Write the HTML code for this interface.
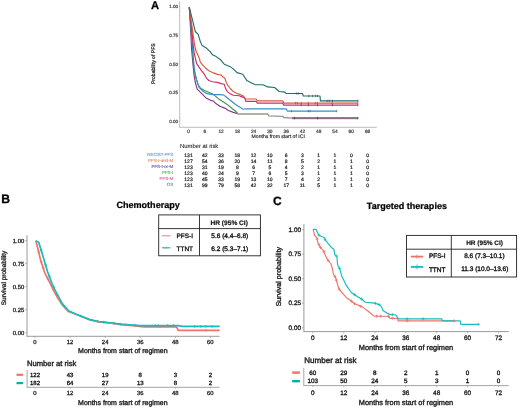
<!DOCTYPE html>
<html><head><meta charset="utf-8"><title>Figure</title>
<style>
html,body{margin:0;padding:0;background:#fff;width:520px;height:408px;overflow:hidden}
svg{display:block}
text{font-family:'Liberation Sans', Arial, sans-serif;text-rendering:geometricPrecision}
</style></head>
<body>
<svg width="520" height="408" viewBox="0 0 520 408">
<rect width="520" height="408" fill="#fff"/>
<text x="151.00" y="9.21" font-size="11.2" text-anchor="start" fill="#000" stroke="#000" stroke-width="0.28" font-weight="bold">A</text>
<line x1="179.70" y1="1.50" x2="179.70" y2="127.30" stroke="#b0b0b0" stroke-width="0.85"/>
<line x1="179.30" y1="127.30" x2="376.80" y2="127.30" stroke="#b0b0b0" stroke-width="0.85"/>
<line x1="178.60" y1="6.80" x2="179.70" y2="6.80" stroke="#b0b0b0" stroke-width="0.6"/>
<text x="178.20" y="8.45" font-size="4.6" text-anchor="end" fill="#333" stroke="#333" stroke-width="0.16">1.00</text>
<line x1="178.60" y1="35.42" x2="179.70" y2="35.42" stroke="#b0b0b0" stroke-width="0.6"/>
<text x="178.20" y="37.07" font-size="4.6" text-anchor="end" fill="#333" stroke="#333" stroke-width="0.16">0.75</text>
<line x1="178.60" y1="64.05" x2="179.70" y2="64.05" stroke="#b0b0b0" stroke-width="0.6"/>
<text x="178.20" y="65.70" font-size="4.6" text-anchor="end" fill="#333" stroke="#333" stroke-width="0.16">0.50</text>
<line x1="178.60" y1="92.67" x2="179.70" y2="92.67" stroke="#b0b0b0" stroke-width="0.6"/>
<text x="178.20" y="94.32" font-size="4.6" text-anchor="end" fill="#333" stroke="#333" stroke-width="0.16">0.25</text>
<line x1="178.60" y1="121.30" x2="179.70" y2="121.30" stroke="#b0b0b0" stroke-width="0.6"/>
<text x="178.20" y="122.95" font-size="4.6" text-anchor="end" fill="#333" stroke="#333" stroke-width="0.16">0.00</text>
<line x1="188.50" y1="127.30" x2="188.50" y2="128.40" stroke="#d0d0d0" stroke-width="0.5"/>
<text x="188.50" y="132.52" font-size="4.8" text-anchor="middle" fill="#333" stroke="#333" stroke-width="0.17">0</text>
<line x1="204.78" y1="127.30" x2="204.78" y2="128.40" stroke="#d0d0d0" stroke-width="0.5"/>
<text x="204.78" y="132.52" font-size="4.8" text-anchor="middle" fill="#333" stroke="#333" stroke-width="0.17">6</text>
<line x1="221.06" y1="127.30" x2="221.06" y2="128.40" stroke="#d0d0d0" stroke-width="0.5"/>
<text x="221.06" y="132.52" font-size="4.8" text-anchor="middle" fill="#333" stroke="#333" stroke-width="0.17">12</text>
<line x1="237.33" y1="127.30" x2="237.33" y2="128.40" stroke="#d0d0d0" stroke-width="0.5"/>
<text x="237.33" y="132.52" font-size="4.8" text-anchor="middle" fill="#333" stroke="#333" stroke-width="0.17">18</text>
<line x1="253.61" y1="127.30" x2="253.61" y2="128.40" stroke="#d0d0d0" stroke-width="0.5"/>
<text x="253.61" y="132.52" font-size="4.8" text-anchor="middle" fill="#333" stroke="#333" stroke-width="0.17">24</text>
<line x1="269.89" y1="127.30" x2="269.89" y2="128.40" stroke="#d0d0d0" stroke-width="0.5"/>
<text x="269.89" y="132.52" font-size="4.8" text-anchor="middle" fill="#333" stroke="#333" stroke-width="0.17">30</text>
<line x1="286.17" y1="127.30" x2="286.17" y2="128.40" stroke="#d0d0d0" stroke-width="0.5"/>
<text x="286.17" y="132.52" font-size="4.8" text-anchor="middle" fill="#333" stroke="#333" stroke-width="0.17">36</text>
<line x1="302.45" y1="127.30" x2="302.45" y2="128.40" stroke="#d0d0d0" stroke-width="0.5"/>
<text x="302.45" y="132.52" font-size="4.8" text-anchor="middle" fill="#333" stroke="#333" stroke-width="0.17">42</text>
<line x1="318.72" y1="127.30" x2="318.72" y2="128.40" stroke="#d0d0d0" stroke-width="0.5"/>
<text x="318.72" y="132.52" font-size="4.8" text-anchor="middle" fill="#333" stroke="#333" stroke-width="0.17">48</text>
<line x1="335.00" y1="127.30" x2="335.00" y2="128.40" stroke="#d0d0d0" stroke-width="0.5"/>
<text x="335.00" y="132.52" font-size="4.8" text-anchor="middle" fill="#333" stroke="#333" stroke-width="0.17">54</text>
<line x1="351.28" y1="127.30" x2="351.28" y2="128.40" stroke="#d0d0d0" stroke-width="0.5"/>
<text x="351.28" y="132.52" font-size="4.8" text-anchor="middle" fill="#333" stroke="#333" stroke-width="0.17">60</text>
<line x1="367.56" y1="127.30" x2="367.56" y2="128.40" stroke="#d0d0d0" stroke-width="0.5"/>
<text x="367.56" y="132.52" font-size="4.8" text-anchor="middle" fill="#333" stroke="#333" stroke-width="0.17">66</text>
<text x="278.20" y="138.23" font-size="5.1" text-anchor="middle" fill="#333" stroke="#333" stroke-width="0.18">Months from start of ICI</text>
<text x="0" y="0" font-size="5.1" text-anchor="middle" fill="#333" stroke="#333" stroke-width="0.3" transform="translate(155.33,63.7) rotate(-90)">Probability of PFS</text>
<polyline points="189.3,7.3 190.9,34.4 191.6,49.1 192.9,63.4 194.1,75.6 195.4,83.0 197.2,89.1 199.0,90.9 202.7,94.6 206.4,98.3 210.1,100.1 213.7,101.3 216.2,103.8 219.9,106.3 224.8,108.1 228.4,110.5 233.3,112.4 237.6,113.8" fill="none" stroke="#833887" stroke-width="1.15" stroke-linejoin="round"/>
<polyline points="189.3,7.3 191.5,34.4 192.6,49.1 193.5,65.8 194.7,73.2 196.0,78.1 197.8,84.2 200.3,87.9 203.9,90.3 208.8,92.2 213.7,94.6 218.6,98.9 223.5,102.0 227.2,104.4 230.9,107.5 234.6,110.5 237.6,113.0" fill="none" stroke="#43984f" stroke-width="1.15" stroke-linejoin="round"/>
<polyline points="237.6,114.0 267.7,114.0 268.8,115.8 282.7,116.3 283.8,117.5 291.9,118.1" fill="none" stroke="#9b958d" stroke-width="1.35" stroke-linejoin="round"/>
<polyline points="291.9,117.6 357.9,117.6" fill="none" stroke="#5f9a62" stroke-width="0.9" stroke-linejoin="round"/>
<polyline points="291.9,118.7 357.9,118.7" fill="none" stroke="#9a5a98" stroke-width="0.9" stroke-linejoin="round"/>
<polyline points="291.9,118.1 357.9,118.1" fill="none" stroke="#5a534d" stroke-width="0.7" stroke-linejoin="round"/>
<polyline points="189.3,7.3 191.8,34.4 193.0,55.0 194.5,70.0 196.6,79.9 199.0,87.3 202.7,90.9 206.4,93.4 212.5,94.6 218.6,94.6 223.5,94.9 227.2,97.7 230.9,100.7 234.6,103.8 238.2,106.3 240.0,107.1 242.9,109.2 245.8,108.8 286.1,108.8 287.3,111.1 336.7,111.1" fill="none" stroke="#3a8cc8" stroke-width="1.15" stroke-linejoin="round"/>
<polyline points="189.3,7.3 192.2,34.4 193.2,45.0 194.1,52.4 195.4,58.5 196.6,63.4 199.0,67.1 201.5,70.7 204.5,74.4 206.4,78.1 208.8,80.5 212.5,81.8 217.4,82.4 221.1,83.6 224.2,84.2 225.4,87.9 227.2,91.6 229.7,93.4 233.3,95.2 239.5,95.8 240.0,96.1 244.6,97.9 245.8,101.3 256.1,101.3 257.3,103.1 282.7,103.1 283.8,105.1 357.9,105.1" fill="none" stroke="#c82e6c" stroke-width="1.15" stroke-linejoin="round"/>
<polyline points="189.3,7.3 193.1,34.4 194.6,45.0 196.0,51.1 197.8,54.8 199.6,59.1 200.3,62.2 202.7,65.2 205.2,67.7 208.8,70.7 212.5,72.6 217.4,74.4 221.1,75.0 222.9,76.9 224.8,78.1 226.0,81.8 227.8,85.4 230.3,88.5 233.3,91.6 237.0,93.5 240.0,94.4 243.5,96.1 245.8,99.0 256.1,99.0 257.3,100.8 282.7,100.8 283.8,103.1 357.9,103.1" fill="none" stroke="#d65a38" stroke-width="1.15" stroke-linejoin="round"/>
<polyline points="189.3,7.3 192.4,19.7 195.3,31.5 198.2,34.4 200.4,41.8 202.1,45.6 206.4,48.1 210.1,51.7 212.5,54.8 216.2,56.6 220.5,59.7 223.5,63.4 224.8,64.6 229.7,66.4 233.3,68.9 237.0,72.6 242.7,74.2 246.9,80.6 251.5,82.9 255.0,84.6 263.1,84.8 267.7,86.9 274.6,87.5 279.2,91.5 285.0,92.1 286.1,93.5 302.5,93.5 303.3,96.0 320.0,96.0 320.4,100.9 357.9,100.9" fill="none" stroke="#1f6e68" stroke-width="1.1" stroke-linejoin="round"/>
<line x1="296.30" y1="92.30" x2="296.30" y2="94.70" stroke="#1d5f5a" stroke-width="0.7"/>
<line x1="298.30" y1="92.30" x2="298.30" y2="94.70" stroke="#1d5f5a" stroke-width="0.7"/>
<line x1="308.80" y1="94.80" x2="308.80" y2="97.20" stroke="#1d5f5a" stroke-width="0.7"/>
<line x1="312.70" y1="94.80" x2="312.70" y2="97.20" stroke="#1d5f5a" stroke-width="0.7"/>
<line x1="315.60" y1="94.80" x2="315.60" y2="97.20" stroke="#1d5f5a" stroke-width="0.7"/>
<line x1="317.50" y1="94.80" x2="317.50" y2="97.20" stroke="#1d5f5a" stroke-width="0.7"/>
<line x1="327.10" y1="99.70" x2="327.10" y2="102.10" stroke="#1d5f5a" stroke-width="0.7"/>
<line x1="329.20" y1="99.70" x2="329.20" y2="102.10" stroke="#1d5f5a" stroke-width="0.7"/>
<line x1="332.50" y1="99.70" x2="332.50" y2="102.10" stroke="#1d5f5a" stroke-width="0.7"/>
<line x1="357.90" y1="99.70" x2="357.90" y2="102.10" stroke="#1d5f5a" stroke-width="0.7"/>
<line x1="295.40" y1="101.90" x2="295.40" y2="104.30" stroke="#b0402a" stroke-width="0.7"/>
<line x1="297.30" y1="101.90" x2="297.30" y2="104.30" stroke="#b0402a" stroke-width="0.7"/>
<line x1="301.20" y1="101.90" x2="301.20" y2="104.30" stroke="#b0402a" stroke-width="0.7"/>
<line x1="308.30" y1="101.90" x2="308.30" y2="104.30" stroke="#b0402a" stroke-width="0.7"/>
<line x1="315.40" y1="101.90" x2="315.40" y2="104.30" stroke="#b0402a" stroke-width="0.7"/>
<line x1="317.50" y1="101.90" x2="317.50" y2="104.30" stroke="#b0402a" stroke-width="0.7"/>
<line x1="331.90" y1="101.90" x2="331.90" y2="104.30" stroke="#b0402a" stroke-width="0.7"/>
<line x1="357.90" y1="101.90" x2="357.90" y2="104.30" stroke="#b0402a" stroke-width="0.7"/>
<line x1="301.20" y1="103.90" x2="301.20" y2="106.30" stroke="#a02050" stroke-width="0.7"/>
<line x1="308.30" y1="103.90" x2="308.30" y2="106.30" stroke="#a02050" stroke-width="0.7"/>
<line x1="317.50" y1="103.90" x2="317.50" y2="106.30" stroke="#a02050" stroke-width="0.7"/>
<line x1="332.50" y1="103.90" x2="332.50" y2="106.30" stroke="#a02050" stroke-width="0.7"/>
<line x1="357.90" y1="103.90" x2="357.90" y2="106.30" stroke="#a02050" stroke-width="0.7"/>
<line x1="291.50" y1="109.90" x2="291.50" y2="112.30" stroke="#2a6a98" stroke-width="0.7"/>
<line x1="308.30" y1="109.90" x2="308.30" y2="112.30" stroke="#2a6a98" stroke-width="0.7"/>
<line x1="310.00" y1="109.90" x2="310.00" y2="112.30" stroke="#2a6a98" stroke-width="0.7"/>
<line x1="336.70" y1="109.90" x2="336.70" y2="112.30" stroke="#2a6a98" stroke-width="0.7"/>
<line x1="294.40" y1="116.80" x2="294.40" y2="119.40" stroke="#3a3530" stroke-width="0.7"/>
<line x1="317.50" y1="116.80" x2="317.50" y2="119.40" stroke="#3a3530" stroke-width="0.7"/>
<line x1="357.90" y1="116.80" x2="357.90" y2="119.40" stroke="#3a3530" stroke-width="0.7"/>
<text x="180.00" y="147.71" font-size="5.9" text-anchor="start" fill="#222" stroke="#222" stroke-width="0.09">Number at risk</text>
<text x="173.20" y="156.38" font-size="4.4" text-anchor="end" fill="#6aa8d4" stroke="#6aa8d4" stroke-width="0.15">RECIST-PFS</text>
<text x="188.50" y="157.09" font-size="5.0" text-anchor="middle" fill="#222" stroke="#222" stroke-width="0.22">131</text>
<text x="204.78" y="157.09" font-size="5.0" text-anchor="middle" fill="#222" stroke="#222" stroke-width="0.22">42</text>
<text x="221.06" y="157.09" font-size="5.0" text-anchor="middle" fill="#222" stroke="#222" stroke-width="0.22">33</text>
<text x="237.33" y="157.09" font-size="5.0" text-anchor="middle" fill="#222" stroke="#222" stroke-width="0.22">18</text>
<text x="253.61" y="157.09" font-size="5.0" text-anchor="middle" fill="#222" stroke="#222" stroke-width="0.22">12</text>
<text x="269.89" y="157.09" font-size="5.0" text-anchor="middle" fill="#222" stroke="#222" stroke-width="0.22">10</text>
<text x="286.17" y="157.09" font-size="5.0" text-anchor="middle" fill="#222" stroke="#222" stroke-width="0.22">6</text>
<text x="302.45" y="157.09" font-size="5.0" text-anchor="middle" fill="#222" stroke="#222" stroke-width="0.22">3</text>
<text x="318.72" y="157.09" font-size="5.0" text-anchor="middle" fill="#222" stroke="#222" stroke-width="0.22">1</text>
<text x="335.00" y="157.09" font-size="5.0" text-anchor="middle" fill="#222" stroke="#222" stroke-width="0.22">1</text>
<text x="351.28" y="157.09" font-size="5.0" text-anchor="middle" fill="#222" stroke="#222" stroke-width="0.22">0</text>
<text x="367.56" y="157.09" font-size="5.0" text-anchor="middle" fill="#222" stroke="#222" stroke-width="0.22">0</text>
<text x="173.20" y="162.38" font-size="4.4" text-anchor="end" fill="#ec9068" stroke="#ec9068" stroke-width="0.15">PFS-I-and-M</text>
<text x="188.50" y="163.09" font-size="5.0" text-anchor="middle" fill="#222" stroke="#222" stroke-width="0.22">127</text>
<text x="204.78" y="163.09" font-size="5.0" text-anchor="middle" fill="#222" stroke="#222" stroke-width="0.22">54</text>
<text x="221.06" y="163.09" font-size="5.0" text-anchor="middle" fill="#222" stroke="#222" stroke-width="0.22">36</text>
<text x="237.33" y="163.09" font-size="5.0" text-anchor="middle" fill="#222" stroke="#222" stroke-width="0.22">20</text>
<text x="253.61" y="163.09" font-size="5.0" text-anchor="middle" fill="#222" stroke="#222" stroke-width="0.22">14</text>
<text x="269.89" y="163.09" font-size="5.0" text-anchor="middle" fill="#222" stroke="#222" stroke-width="0.22">11</text>
<text x="286.17" y="163.09" font-size="5.0" text-anchor="middle" fill="#222" stroke="#222" stroke-width="0.22">8</text>
<text x="302.45" y="163.09" font-size="5.0" text-anchor="middle" fill="#222" stroke="#222" stroke-width="0.22">5</text>
<text x="318.72" y="163.09" font-size="5.0" text-anchor="middle" fill="#222" stroke="#222" stroke-width="0.22">2</text>
<text x="335.00" y="163.09" font-size="5.0" text-anchor="middle" fill="#222" stroke="#222" stroke-width="0.22">1</text>
<text x="351.28" y="163.09" font-size="5.0" text-anchor="middle" fill="#222" stroke="#222" stroke-width="0.22">1</text>
<text x="367.56" y="163.09" font-size="5.0" text-anchor="middle" fill="#222" stroke="#222" stroke-width="0.22">0</text>
<text x="173.20" y="168.38" font-size="4.4" text-anchor="end" fill="#7058a6" stroke="#7058a6" stroke-width="0.15">PFS-I-or-M</text>
<text x="188.50" y="169.09" font-size="5.0" text-anchor="middle" fill="#222" stroke="#222" stroke-width="0.22">123</text>
<text x="204.78" y="169.09" font-size="5.0" text-anchor="middle" fill="#222" stroke="#222" stroke-width="0.22">31</text>
<text x="221.06" y="169.09" font-size="5.0" text-anchor="middle" fill="#222" stroke="#222" stroke-width="0.22">19</text>
<text x="237.33" y="169.09" font-size="5.0" text-anchor="middle" fill="#222" stroke="#222" stroke-width="0.22">8</text>
<text x="253.61" y="169.09" font-size="5.0" text-anchor="middle" fill="#222" stroke="#222" stroke-width="0.22">6</text>
<text x="269.89" y="169.09" font-size="5.0" text-anchor="middle" fill="#222" stroke="#222" stroke-width="0.22">5</text>
<text x="286.17" y="169.09" font-size="5.0" text-anchor="middle" fill="#222" stroke="#222" stroke-width="0.22">4</text>
<text x="302.45" y="169.09" font-size="5.0" text-anchor="middle" fill="#222" stroke="#222" stroke-width="0.22">2</text>
<text x="318.72" y="169.09" font-size="5.0" text-anchor="middle" fill="#222" stroke="#222" stroke-width="0.22">1</text>
<text x="335.00" y="169.09" font-size="5.0" text-anchor="middle" fill="#222" stroke="#222" stroke-width="0.22">1</text>
<text x="351.28" y="169.09" font-size="5.0" text-anchor="middle" fill="#222" stroke="#222" stroke-width="0.22">1</text>
<text x="367.56" y="169.09" font-size="5.0" text-anchor="middle" fill="#222" stroke="#222" stroke-width="0.22">0</text>
<text x="173.20" y="174.38" font-size="4.4" text-anchor="end" fill="#66b866" stroke="#66b866" stroke-width="0.15">PFS-I</text>
<text x="188.50" y="175.09" font-size="5.0" text-anchor="middle" fill="#222" stroke="#222" stroke-width="0.22">123</text>
<text x="204.78" y="175.09" font-size="5.0" text-anchor="middle" fill="#222" stroke="#222" stroke-width="0.22">40</text>
<text x="221.06" y="175.09" font-size="5.0" text-anchor="middle" fill="#222" stroke="#222" stroke-width="0.22">24</text>
<text x="237.33" y="175.09" font-size="5.0" text-anchor="middle" fill="#222" stroke="#222" stroke-width="0.22">9</text>
<text x="253.61" y="175.09" font-size="5.0" text-anchor="middle" fill="#222" stroke="#222" stroke-width="0.22">7</text>
<text x="269.89" y="175.09" font-size="5.0" text-anchor="middle" fill="#222" stroke="#222" stroke-width="0.22">6</text>
<text x="286.17" y="175.09" font-size="5.0" text-anchor="middle" fill="#222" stroke="#222" stroke-width="0.22">5</text>
<text x="302.45" y="175.09" font-size="5.0" text-anchor="middle" fill="#222" stroke="#222" stroke-width="0.22">3</text>
<text x="318.72" y="175.09" font-size="5.0" text-anchor="middle" fill="#222" stroke="#222" stroke-width="0.22">1</text>
<text x="335.00" y="175.09" font-size="5.0" text-anchor="middle" fill="#222" stroke="#222" stroke-width="0.22">1</text>
<text x="351.28" y="175.09" font-size="5.0" text-anchor="middle" fill="#222" stroke="#222" stroke-width="0.22">1</text>
<text x="367.56" y="175.09" font-size="5.0" text-anchor="middle" fill="#222" stroke="#222" stroke-width="0.22">0</text>
<text x="173.20" y="180.38" font-size="4.4" text-anchor="end" fill="#e46a98" stroke="#e46a98" stroke-width="0.15">PFS-M</text>
<text x="188.50" y="181.09" font-size="5.0" text-anchor="middle" fill="#222" stroke="#222" stroke-width="0.22">123</text>
<text x="204.78" y="181.09" font-size="5.0" text-anchor="middle" fill="#222" stroke="#222" stroke-width="0.22">45</text>
<text x="221.06" y="181.09" font-size="5.0" text-anchor="middle" fill="#222" stroke="#222" stroke-width="0.22">33</text>
<text x="237.33" y="181.09" font-size="5.0" text-anchor="middle" fill="#222" stroke="#222" stroke-width="0.22">19</text>
<text x="253.61" y="181.09" font-size="5.0" text-anchor="middle" fill="#222" stroke="#222" stroke-width="0.22">13</text>
<text x="269.89" y="181.09" font-size="5.0" text-anchor="middle" fill="#222" stroke="#222" stroke-width="0.22">10</text>
<text x="286.17" y="181.09" font-size="5.0" text-anchor="middle" fill="#222" stroke="#222" stroke-width="0.22">7</text>
<text x="302.45" y="181.09" font-size="5.0" text-anchor="middle" fill="#222" stroke="#222" stroke-width="0.22">4</text>
<text x="318.72" y="181.09" font-size="5.0" text-anchor="middle" fill="#222" stroke="#222" stroke-width="0.22">2</text>
<text x="335.00" y="181.09" font-size="5.0" text-anchor="middle" fill="#222" stroke="#222" stroke-width="0.22">1</text>
<text x="351.28" y="181.09" font-size="5.0" text-anchor="middle" fill="#222" stroke="#222" stroke-width="0.22">1</text>
<text x="367.56" y="181.09" font-size="5.0" text-anchor="middle" fill="#222" stroke="#222" stroke-width="0.22">0</text>
<text x="173.20" y="186.38" font-size="4.4" text-anchor="end" fill="#5a9e9a" stroke="#5a9e9a" stroke-width="0.15">OS</text>
<text x="188.50" y="187.09" font-size="5.0" text-anchor="middle" fill="#222" stroke="#222" stroke-width="0.22">131</text>
<text x="204.78" y="187.09" font-size="5.0" text-anchor="middle" fill="#222" stroke="#222" stroke-width="0.22">99</text>
<text x="221.06" y="187.09" font-size="5.0" text-anchor="middle" fill="#222" stroke="#222" stroke-width="0.22">79</text>
<text x="237.33" y="187.09" font-size="5.0" text-anchor="middle" fill="#222" stroke="#222" stroke-width="0.22">58</text>
<text x="253.61" y="187.09" font-size="5.0" text-anchor="middle" fill="#222" stroke="#222" stroke-width="0.22">42</text>
<text x="269.89" y="187.09" font-size="5.0" text-anchor="middle" fill="#222" stroke="#222" stroke-width="0.22">32</text>
<text x="286.17" y="187.09" font-size="5.0" text-anchor="middle" fill="#222" stroke="#222" stroke-width="0.22">17</text>
<text x="302.45" y="187.09" font-size="5.0" text-anchor="middle" fill="#222" stroke="#222" stroke-width="0.22">11</text>
<text x="318.72" y="187.09" font-size="5.0" text-anchor="middle" fill="#222" stroke="#222" stroke-width="0.22">5</text>
<text x="335.00" y="187.09" font-size="5.0" text-anchor="middle" fill="#222" stroke="#222" stroke-width="0.22">1</text>
<text x="351.28" y="187.09" font-size="5.0" text-anchor="middle" fill="#222" stroke="#222" stroke-width="0.22">1</text>
<text x="367.56" y="187.09" font-size="5.0" text-anchor="middle" fill="#222" stroke="#222" stroke-width="0.22">0</text>
<text x="1.20" y="203.37" font-size="12.2" text-anchor="start" fill="#000" stroke="#000" stroke-width="0.30" font-weight="bold">B</text>
<text x="116.40" y="208.15" font-size="9.07" text-anchor="start" fill="#000" stroke="#000" stroke-width="0.23" font-weight="bold">Chemotherapy</text>
<line x1="27.00" y1="235.30" x2="27.00" y2="336.30" stroke="#9a9a9a" stroke-width="1.0"/>
<line x1="26.50" y1="336.30" x2="219.60" y2="336.30" stroke="#9a9a9a" stroke-width="1.0"/>
<line x1="25.20" y1="240.60" x2="27.00" y2="240.60" stroke="#9a9a9a" stroke-width="0.7"/>
<text x="24.30" y="242.71" font-size="5.9" text-anchor="end" fill="#222" stroke="#222" stroke-width="0.30">1.00</text>
<line x1="25.20" y1="263.60" x2="27.00" y2="263.60" stroke="#9a9a9a" stroke-width="0.7"/>
<text x="24.30" y="265.71" font-size="5.9" text-anchor="end" fill="#222" stroke="#222" stroke-width="0.30">0.75</text>
<line x1="25.20" y1="286.60" x2="27.00" y2="286.60" stroke="#9a9a9a" stroke-width="0.7"/>
<text x="24.30" y="288.71" font-size="5.9" text-anchor="end" fill="#222" stroke="#222" stroke-width="0.30">0.50</text>
<line x1="25.20" y1="309.60" x2="27.00" y2="309.60" stroke="#9a9a9a" stroke-width="0.7"/>
<text x="24.30" y="311.71" font-size="5.9" text-anchor="end" fill="#222" stroke="#222" stroke-width="0.30">0.25</text>
<line x1="25.20" y1="332.60" x2="27.00" y2="332.60" stroke="#9a9a9a" stroke-width="0.7"/>
<text x="24.30" y="334.71" font-size="5.9" text-anchor="end" fill="#222" stroke="#222" stroke-width="0.30">0.00</text>
<line x1="35.00" y1="336.30" x2="35.00" y2="338.00" stroke="#9a9a9a" stroke-width="0.7"/>
<text x="35.00" y="343.71" font-size="5.9" text-anchor="middle" fill="#222" stroke="#222" stroke-width="0.30">0</text>
<line x1="70.08" y1="336.30" x2="70.08" y2="338.00" stroke="#9a9a9a" stroke-width="0.7"/>
<text x="70.08" y="343.71" font-size="5.9" text-anchor="middle" fill="#222" stroke="#222" stroke-width="0.30">12</text>
<line x1="105.15" y1="336.30" x2="105.15" y2="338.00" stroke="#9a9a9a" stroke-width="0.7"/>
<text x="105.15" y="343.71" font-size="5.9" text-anchor="middle" fill="#222" stroke="#222" stroke-width="0.30">24</text>
<line x1="140.23" y1="336.30" x2="140.23" y2="338.00" stroke="#9a9a9a" stroke-width="0.7"/>
<text x="140.23" y="343.71" font-size="5.9" text-anchor="middle" fill="#222" stroke="#222" stroke-width="0.30">36</text>
<line x1="175.30" y1="336.30" x2="175.30" y2="338.00" stroke="#9a9a9a" stroke-width="0.7"/>
<text x="175.30" y="343.71" font-size="5.9" text-anchor="middle" fill="#222" stroke="#222" stroke-width="0.30">48</text>
<line x1="210.38" y1="336.30" x2="210.38" y2="338.00" stroke="#9a9a9a" stroke-width="0.7"/>
<text x="210.38" y="343.71" font-size="5.9" text-anchor="middle" fill="#222" stroke="#222" stroke-width="0.30">60</text>
<text x="122.80" y="353.41" font-size="7.0" text-anchor="middle" fill="#222" stroke="#222" stroke-width="0.35">Months from start of regimen</text>
<text x="0" y="0" font-size="6.5" text-anchor="middle" fill="#222" stroke="#222" stroke-width="0.32" transform="translate(6.30,278) rotate(-90)">Survival probability</text>
<polyline points="35.9,240.6 37.4,246.8 40.6,260.0 44.9,273.2 50.3,283.5 55.4,293.8 62.0,304.6 68.3,311.5 74.6,313.8 80.8,316.2 90.0,320.0 99.2,321.8 111.5,323.1 120.8,324.6 130.0,325.4 144.2,326.8 176.6,326.8 178.2,330.3 219.7,330.3" fill="none" stroke="#f0736a" stroke-width="1.7" stroke-linejoin="round"/>
<polyline points="35.9,240.6 38.8,242.4 43.2,257.0 47.6,271.8 52.0,283.5 56.5,293.0 62.3,303.6 68.5,310.8 74.6,313.5 80.8,316.0 90.0,319.6 99.2,321.6 111.5,323.0 120.8,324.2 130.1,324.8 140.2,325.6 178.6,325.6 182.6,326.4 219.7,326.4" fill="none" stroke="#14bcc0" stroke-width="1.7" stroke-linejoin="round"/>
<line x1="38.66" y1="250.60" x2="38.66" y2="253.40" stroke="#f0736a" stroke-width="0.8"/>
<line x1="37.26" y1="252.00" x2="40.06" y2="252.00" stroke="#f0736a" stroke-width="0.8"/>
<line x1="41.25" y1="260.60" x2="41.25" y2="263.40" stroke="#f0736a" stroke-width="0.8"/>
<line x1="39.85" y1="262.00" x2="42.65" y2="262.00" stroke="#f0736a" stroke-width="0.8"/>
<line x1="43.21" y1="266.60" x2="43.21" y2="269.40" stroke="#f0736a" stroke-width="0.8"/>
<line x1="41.81" y1="268.00" x2="44.61" y2="268.00" stroke="#f0736a" stroke-width="0.8"/>
<line x1="47.94" y1="277.60" x2="47.94" y2="280.40" stroke="#f0736a" stroke-width="0.8"/>
<line x1="46.54" y1="279.00" x2="49.34" y2="279.00" stroke="#f0736a" stroke-width="0.8"/>
<line x1="53.02" y1="287.60" x2="53.02" y2="290.40" stroke="#f0736a" stroke-width="0.8"/>
<line x1="51.62" y1="289.00" x2="54.42" y2="289.00" stroke="#f0736a" stroke-width="0.8"/>
<line x1="57.97" y1="296.60" x2="57.97" y2="299.40" stroke="#f0736a" stroke-width="0.8"/>
<line x1="56.57" y1="298.00" x2="59.37" y2="298.00" stroke="#f0736a" stroke-width="0.8"/>
<line x1="41.09" y1="248.60" x2="41.09" y2="251.40" stroke="#14bcc0" stroke-width="0.8"/>
<line x1="39.69" y1="250.00" x2="42.49" y2="250.00" stroke="#14bcc0" stroke-width="0.8"/>
<line x1="45.58" y1="263.60" x2="45.58" y2="266.40" stroke="#14bcc0" stroke-width="0.8"/>
<line x1="44.18" y1="265.00" x2="46.98" y2="265.00" stroke="#14bcc0" stroke-width="0.8"/>
<line x1="49.18" y1="274.60" x2="49.18" y2="277.40" stroke="#14bcc0" stroke-width="0.8"/>
<line x1="47.78" y1="276.00" x2="50.58" y2="276.00" stroke="#14bcc0" stroke-width="0.8"/>
<line x1="53.66" y1="285.60" x2="53.66" y2="288.40" stroke="#14bcc0" stroke-width="0.8"/>
<line x1="52.26" y1="287.00" x2="55.06" y2="287.00" stroke="#14bcc0" stroke-width="0.8"/>
<line x1="80.80" y1="314.60" x2="80.80" y2="317.40" stroke="#14bcc0" stroke-width="0.8"/>
<line x1="79.40" y1="316.00" x2="82.20" y2="316.00" stroke="#14bcc0" stroke-width="0.8"/>
<line x1="103.80" y1="320.72" x2="103.80" y2="323.52" stroke="#14bcc0" stroke-width="0.8"/>
<line x1="102.40" y1="322.12" x2="105.20" y2="322.12" stroke="#14bcc0" stroke-width="0.8"/>
<line x1="113.80" y1="321.90" x2="113.80" y2="324.70" stroke="#14bcc0" stroke-width="0.8"/>
<line x1="112.40" y1="323.30" x2="115.20" y2="323.30" stroke="#14bcc0" stroke-width="0.8"/>
<line x1="120.80" y1="322.80" x2="120.80" y2="325.60" stroke="#14bcc0" stroke-width="0.8"/>
<line x1="119.40" y1="324.20" x2="122.20" y2="324.20" stroke="#14bcc0" stroke-width="0.8"/>
<line x1="135.20" y1="323.80" x2="135.20" y2="326.60" stroke="#14bcc0" stroke-width="0.8"/>
<line x1="133.80" y1="325.20" x2="136.60" y2="325.20" stroke="#14bcc0" stroke-width="0.8"/>
<line x1="155.40" y1="324.20" x2="155.40" y2="327.00" stroke="#14bcc0" stroke-width="0.8"/>
<line x1="154.00" y1="325.60" x2="156.80" y2="325.60" stroke="#14bcc0" stroke-width="0.8"/>
<line x1="158.40" y1="324.20" x2="158.40" y2="327.00" stroke="#14bcc0" stroke-width="0.8"/>
<line x1="157.00" y1="325.60" x2="159.80" y2="325.60" stroke="#14bcc0" stroke-width="0.8"/>
<line x1="167.50" y1="324.20" x2="167.50" y2="327.00" stroke="#14bcc0" stroke-width="0.8"/>
<line x1="166.10" y1="325.60" x2="168.90" y2="325.60" stroke="#14bcc0" stroke-width="0.8"/>
<line x1="173.50" y1="324.20" x2="173.50" y2="327.00" stroke="#14bcc0" stroke-width="0.8"/>
<line x1="172.10" y1="325.60" x2="174.90" y2="325.60" stroke="#14bcc0" stroke-width="0.8"/>
<line x1="194.70" y1="325.00" x2="194.70" y2="327.80" stroke="#14bcc0" stroke-width="0.8"/>
<line x1="193.30" y1="326.40" x2="196.10" y2="326.40" stroke="#14bcc0" stroke-width="0.8"/>
<line x1="200.80" y1="325.00" x2="200.80" y2="327.80" stroke="#14bcc0" stroke-width="0.8"/>
<line x1="199.40" y1="326.40" x2="202.20" y2="326.40" stroke="#14bcc0" stroke-width="0.8"/>
<line x1="205.90" y1="325.00" x2="205.90" y2="327.80" stroke="#14bcc0" stroke-width="0.8"/>
<line x1="204.50" y1="326.40" x2="207.30" y2="326.40" stroke="#14bcc0" stroke-width="0.8"/>
<line x1="211.90" y1="325.00" x2="211.90" y2="327.80" stroke="#14bcc0" stroke-width="0.8"/>
<line x1="210.50" y1="326.40" x2="213.30" y2="326.40" stroke="#14bcc0" stroke-width="0.8"/>
<line x1="98.00" y1="320.17" x2="98.00" y2="322.97" stroke="#f0736a" stroke-width="0.8"/>
<line x1="96.60" y1="321.57" x2="99.40" y2="321.57" stroke="#f0736a" stroke-width="0.8"/>
<line x1="125.00" y1="323.57" x2="125.00" y2="326.37" stroke="#f0736a" stroke-width="0.8"/>
<line x1="123.60" y1="324.97" x2="126.40" y2="324.97" stroke="#f0736a" stroke-width="0.8"/>
<line x1="160.00" y1="325.40" x2="160.00" y2="328.20" stroke="#f0736a" stroke-width="0.8"/>
<line x1="158.60" y1="326.80" x2="161.40" y2="326.80" stroke="#f0736a" stroke-width="0.8"/>
<line x1="205.90" y1="328.90" x2="205.90" y2="331.70" stroke="#f0736a" stroke-width="0.8"/>
<line x1="204.50" y1="330.30" x2="207.30" y2="330.30" stroke="#f0736a" stroke-width="0.8"/>
<rect x="158.7" y="214.9" width="101.7" height="40.9" fill="none" stroke="#222" stroke-width="0.9"/>
<line x1="199.50" y1="214.90" x2="199.50" y2="255.80" stroke="#222" stroke-width="0.9"/>
<line x1="158.70" y1="228.60" x2="260.40" y2="228.60" stroke="#222" stroke-width="0.9"/>
<text x="229.20" y="224.56" font-size="6.6" text-anchor="middle" fill="#111" stroke="#111" stroke-width="0.17" font-weight="bold">HR (95% CI)</text>
<line x1="161.90" y1="235.80" x2="170.40" y2="235.80" stroke="#d99a98" stroke-width="1.2"/>
<line x1="161.90" y1="247.80" x2="170.40" y2="247.80" stroke="#2cb7ae" stroke-width="1.2"/>
<line x1="166.10" y1="246.60" x2="166.10" y2="249.00" stroke="#2cb7ae" stroke-width="0.6"/>
<text x="176.60" y="237.99" font-size="6.4" text-anchor="start" fill="#111" stroke="#111" stroke-width="0.32">PFS-I</text>
<text x="176.60" y="250.89" font-size="6.4" text-anchor="start" fill="#111" stroke="#111" stroke-width="0.32">TTNT</text>
<text x="229.80" y="238.03" font-size="6.5" text-anchor="middle" fill="#111" stroke="#111" stroke-width="0.33">5.6 (4.4–6.8)</text>
<text x="229.80" y="250.93" font-size="6.5" text-anchor="middle" fill="#111" stroke="#111" stroke-width="0.33">6.2 (5.3–7.1)</text>
<text x="27.00" y="365.71" font-size="7.58" text-anchor="start" fill="#222" stroke="#222" stroke-width="0.38">Number at risk</text>
<line x1="16.50" y1="374.80" x2="23.10" y2="374.80" stroke="#f0736a" stroke-width="2.2"/>
<line x1="16.50" y1="383.10" x2="23.10" y2="383.10" stroke="#11a9a9" stroke-width="2.2"/>
<line x1="27.10" y1="370.00" x2="27.10" y2="387.30" stroke="#9a9a9a" stroke-width="0.9"/>
<line x1="26.70" y1="387.30" x2="219.60" y2="387.30" stroke="#9a9a9a" stroke-width="0.9"/>
<text x="35.00" y="377.15" font-size="6.0" text-anchor="middle" fill="#111" stroke="#111" stroke-width="0.30">122</text>
<text x="35.00" y="385.35" font-size="6.0" text-anchor="middle" fill="#111" stroke="#111" stroke-width="0.30">182</text>
<line x1="35.00" y1="387.30" x2="35.00" y2="388.80" stroke="#9a9a9a" stroke-width="0.7"/>
<text x="35.00" y="394.81" font-size="5.9" text-anchor="middle" fill="#222" stroke="#222" stroke-width="0.30">0</text>
<text x="70.08" y="377.15" font-size="6.0" text-anchor="middle" fill="#111" stroke="#111" stroke-width="0.30">43</text>
<text x="70.08" y="385.35" font-size="6.0" text-anchor="middle" fill="#111" stroke="#111" stroke-width="0.30">64</text>
<line x1="70.08" y1="387.30" x2="70.08" y2="388.80" stroke="#9a9a9a" stroke-width="0.7"/>
<text x="70.08" y="394.81" font-size="5.9" text-anchor="middle" fill="#222" stroke="#222" stroke-width="0.30">12</text>
<text x="105.15" y="377.15" font-size="6.0" text-anchor="middle" fill="#111" stroke="#111" stroke-width="0.30">19</text>
<text x="105.15" y="385.35" font-size="6.0" text-anchor="middle" fill="#111" stroke="#111" stroke-width="0.30">27</text>
<line x1="105.15" y1="387.30" x2="105.15" y2="388.80" stroke="#9a9a9a" stroke-width="0.7"/>
<text x="105.15" y="394.81" font-size="5.9" text-anchor="middle" fill="#222" stroke="#222" stroke-width="0.30">24</text>
<text x="140.23" y="377.15" font-size="6.0" text-anchor="middle" fill="#111" stroke="#111" stroke-width="0.30">8</text>
<text x="140.23" y="385.35" font-size="6.0" text-anchor="middle" fill="#111" stroke="#111" stroke-width="0.30">13</text>
<line x1="140.23" y1="387.30" x2="140.23" y2="388.80" stroke="#9a9a9a" stroke-width="0.7"/>
<text x="140.23" y="394.81" font-size="5.9" text-anchor="middle" fill="#222" stroke="#222" stroke-width="0.30">36</text>
<text x="175.30" y="377.15" font-size="6.0" text-anchor="middle" fill="#111" stroke="#111" stroke-width="0.30">3</text>
<text x="175.30" y="385.35" font-size="6.0" text-anchor="middle" fill="#111" stroke="#111" stroke-width="0.30">8</text>
<line x1="175.30" y1="387.30" x2="175.30" y2="388.80" stroke="#9a9a9a" stroke-width="0.7"/>
<text x="175.30" y="394.81" font-size="5.9" text-anchor="middle" fill="#222" stroke="#222" stroke-width="0.30">48</text>
<text x="210.38" y="377.15" font-size="6.0" text-anchor="middle" fill="#111" stroke="#111" stroke-width="0.30">2</text>
<text x="210.38" y="385.35" font-size="6.0" text-anchor="middle" fill="#111" stroke="#111" stroke-width="0.30">2</text>
<line x1="210.38" y1="387.30" x2="210.38" y2="388.80" stroke="#9a9a9a" stroke-width="0.7"/>
<text x="210.38" y="394.81" font-size="5.9" text-anchor="middle" fill="#222" stroke="#222" stroke-width="0.30">60</text>
<text x="122.80" y="405.41" font-size="7.0" text-anchor="middle" fill="#222" stroke="#222" stroke-width="0.35">Months from start of regimen</text>
<text x="273.00" y="205.40" font-size="12.0" text-anchor="start" fill="#000" stroke="#000" stroke-width="0.30" font-weight="bold">C</text>
<text x="366.80" y="208.54" font-size="9.04" text-anchor="start" fill="#000" stroke="#000" stroke-width="0.23" font-weight="bold">Targeted therapies</text>
<line x1="303.90" y1="224.20" x2="303.90" y2="331.60" stroke="#9a9a9a" stroke-width="1.0"/>
<line x1="303.40" y1="331.60" x2="508.80" y2="331.60" stroke="#9a9a9a" stroke-width="1.0"/>
<line x1="302.00" y1="229.70" x2="303.90" y2="229.70" stroke="#9a9a9a" stroke-width="0.7"/>
<text x="301.00" y="231.99" font-size="6.4" text-anchor="end" fill="#222" stroke="#222" stroke-width="0.32">1.00</text>
<line x1="302.00" y1="254.20" x2="303.90" y2="254.20" stroke="#9a9a9a" stroke-width="0.7"/>
<text x="301.00" y="256.49" font-size="6.4" text-anchor="end" fill="#222" stroke="#222" stroke-width="0.32">0.75</text>
<line x1="302.00" y1="278.70" x2="303.90" y2="278.70" stroke="#9a9a9a" stroke-width="0.7"/>
<text x="301.00" y="280.99" font-size="6.4" text-anchor="end" fill="#222" stroke="#222" stroke-width="0.32">0.50</text>
<line x1="302.00" y1="303.20" x2="303.90" y2="303.20" stroke="#9a9a9a" stroke-width="0.7"/>
<text x="301.00" y="305.49" font-size="6.4" text-anchor="end" fill="#222" stroke="#222" stroke-width="0.32">0.25</text>
<line x1="302.00" y1="327.70" x2="303.90" y2="327.70" stroke="#9a9a9a" stroke-width="0.7"/>
<text x="301.00" y="329.99" font-size="6.4" text-anchor="end" fill="#222" stroke="#222" stroke-width="0.32">0.00</text>
<line x1="312.80" y1="331.60" x2="312.80" y2="333.30" stroke="#9a9a9a" stroke-width="0.7"/>
<text x="312.80" y="340.29" font-size="6.4" text-anchor="middle" fill="#222" stroke="#222" stroke-width="0.32">0</text>
<line x1="343.76" y1="331.60" x2="343.76" y2="333.30" stroke="#9a9a9a" stroke-width="0.7"/>
<text x="343.76" y="340.29" font-size="6.4" text-anchor="middle" fill="#222" stroke="#222" stroke-width="0.32">12</text>
<line x1="374.72" y1="331.60" x2="374.72" y2="333.30" stroke="#9a9a9a" stroke-width="0.7"/>
<text x="374.72" y="340.29" font-size="6.4" text-anchor="middle" fill="#222" stroke="#222" stroke-width="0.32">24</text>
<line x1="405.68" y1="331.60" x2="405.68" y2="333.30" stroke="#9a9a9a" stroke-width="0.7"/>
<text x="405.68" y="340.29" font-size="6.4" text-anchor="middle" fill="#222" stroke="#222" stroke-width="0.32">36</text>
<line x1="436.64" y1="331.60" x2="436.64" y2="333.30" stroke="#9a9a9a" stroke-width="0.7"/>
<text x="436.64" y="340.29" font-size="6.4" text-anchor="middle" fill="#222" stroke="#222" stroke-width="0.32">48</text>
<line x1="467.60" y1="331.60" x2="467.60" y2="333.30" stroke="#9a9a9a" stroke-width="0.7"/>
<text x="467.60" y="340.29" font-size="6.4" text-anchor="middle" fill="#222" stroke="#222" stroke-width="0.32">60</text>
<line x1="498.56" y1="331.60" x2="498.56" y2="333.30" stroke="#9a9a9a" stroke-width="0.7"/>
<text x="498.56" y="340.29" font-size="6.4" text-anchor="middle" fill="#222" stroke="#222" stroke-width="0.32">72</text>
<text x="406.00" y="350.05" font-size="7.4" text-anchor="middle" fill="#222" stroke="#222" stroke-width="0.37">Months from start of regimen</text>
<text x="0" y="0" font-size="7.1" text-anchor="middle" fill="#222" stroke="#222" stroke-width="0.35" transform="translate(281.14,276.6) rotate(-90)">Survival probability</text>
<polyline points="313.1,229.4 314.6,235.3 317.0,238.2 317.8,242.6 320.7,247.8 323.6,250.7 325.9,256.6 328.0,260.3 331.0,264.0 332.5,269.1 333.3,273.8 335.6,277.7 338.7,288.5 341.8,292.3 346.4,297.7 351.0,300.8 354.6,303.8 362.3,306.9 368.5,311.5 373.1,315.4 374.6,316.2 388.5,316.2 390.0,318.3 397.7,318.3 398.0,320.8 454.4,320.8" fill="none" stroke="#f0736a" stroke-width="1.15" stroke-linejoin="round"/>
<polyline points="313.1,229.4 316.0,229.4 317.5,232.4 319.0,235.3 322.2,236.8 324.4,237.5 325.1,239.7 328.0,243.4 331.7,247.8 333.9,249.3 334.7,254.4 336.9,256.6 337.6,264.7 339.8,269.1 341.8,276.2 346.4,285.4 351.0,292.3 355.6,295.4 361.8,299.2 365.4,302.3 374.6,303.1 379.2,304.6 381.5,306.9 383.1,310.8 386.9,313.1 390.0,314.4 395.8,315.0 398.7,318.8 441.9,318.8 442.3,320.8 460.2,320.8 460.8,324.4 478.5,324.4" fill="none" stroke="#14bcc0" stroke-width="1.15" stroke-linejoin="round"/>
<line x1="317.15" y1="237.50" x2="317.15" y2="240.50" stroke="#f0736a" stroke-width="0.8"/>
<line x1="315.65" y1="239.00" x2="318.65" y2="239.00" stroke="#f0736a" stroke-width="0.8"/>
<line x1="319.08" y1="243.40" x2="319.08" y2="246.40" stroke="#f0736a" stroke-width="0.8"/>
<line x1="317.58" y1="244.90" x2="320.58" y2="244.90" stroke="#f0736a" stroke-width="0.8"/>
<line x1="320.53" y1="246.00" x2="320.53" y2="249.00" stroke="#f0736a" stroke-width="0.8"/>
<line x1="319.03" y1="247.50" x2="322.03" y2="247.50" stroke="#f0736a" stroke-width="0.8"/>
<line x1="323.91" y1="250.00" x2="323.91" y2="253.00" stroke="#f0736a" stroke-width="0.8"/>
<line x1="322.41" y1="251.50" x2="325.41" y2="251.50" stroke="#f0736a" stroke-width="0.8"/>
<line x1="328.00" y1="258.80" x2="328.00" y2="261.80" stroke="#f0736a" stroke-width="0.8"/>
<line x1="326.50" y1="260.30" x2="329.50" y2="260.30" stroke="#f0736a" stroke-width="0.8"/>
<line x1="334.89" y1="275.00" x2="334.89" y2="278.00" stroke="#f0736a" stroke-width="0.8"/>
<line x1="333.39" y1="276.50" x2="336.39" y2="276.50" stroke="#f0736a" stroke-width="0.8"/>
<line x1="336.29" y1="278.60" x2="336.29" y2="281.60" stroke="#f0736a" stroke-width="0.8"/>
<line x1="334.79" y1="280.10" x2="337.79" y2="280.10" stroke="#f0736a" stroke-width="0.8"/>
<line x1="339.27" y1="287.70" x2="339.27" y2="290.70" stroke="#f0736a" stroke-width="0.8"/>
<line x1="337.77" y1="289.20" x2="340.77" y2="289.20" stroke="#f0736a" stroke-width="0.8"/>
<line x1="319.00" y1="233.80" x2="319.00" y2="236.80" stroke="#14bcc0" stroke-width="0.8"/>
<line x1="317.50" y1="235.30" x2="320.50" y2="235.30" stroke="#14bcc0" stroke-width="0.8"/>
<line x1="325.10" y1="238.20" x2="325.10" y2="241.20" stroke="#14bcc0" stroke-width="0.8"/>
<line x1="323.60" y1="239.70" x2="326.60" y2="239.70" stroke="#14bcc0" stroke-width="0.8"/>
<line x1="336.20" y1="254.40" x2="336.20" y2="257.40" stroke="#14bcc0" stroke-width="0.8"/>
<line x1="334.70" y1="255.90" x2="337.70" y2="255.90" stroke="#14bcc0" stroke-width="0.8"/>
<line x1="339.45" y1="266.90" x2="339.45" y2="269.90" stroke="#14bcc0" stroke-width="0.8"/>
<line x1="337.95" y1="268.40" x2="340.95" y2="268.40" stroke="#14bcc0" stroke-width="0.8"/>
<line x1="351.50" y1="299.72" x2="351.50" y2="302.72" stroke="#f0736a" stroke-width="0.8"/>
<line x1="350.00" y1="301.22" x2="353.00" y2="301.22" stroke="#f0736a" stroke-width="0.8"/>
<line x1="354.60" y1="302.30" x2="354.60" y2="305.30" stroke="#f0736a" stroke-width="0.8"/>
<line x1="353.10" y1="303.80" x2="356.10" y2="303.80" stroke="#f0736a" stroke-width="0.8"/>
<line x1="360.80" y1="304.80" x2="360.80" y2="307.80" stroke="#f0736a" stroke-width="0.8"/>
<line x1="359.30" y1="306.30" x2="362.30" y2="306.30" stroke="#f0736a" stroke-width="0.8"/>
<line x1="376.50" y1="314.70" x2="376.50" y2="317.70" stroke="#f0736a" stroke-width="0.8"/>
<line x1="375.00" y1="316.20" x2="378.00" y2="316.20" stroke="#f0736a" stroke-width="0.8"/>
<line x1="380.50" y1="314.70" x2="380.50" y2="317.70" stroke="#f0736a" stroke-width="0.8"/>
<line x1="379.00" y1="316.20" x2="382.00" y2="316.20" stroke="#f0736a" stroke-width="0.8"/>
<line x1="388.50" y1="314.70" x2="388.50" y2="317.70" stroke="#f0736a" stroke-width="0.8"/>
<line x1="387.00" y1="316.20" x2="390.00" y2="316.20" stroke="#f0736a" stroke-width="0.8"/>
<line x1="392.30" y1="316.80" x2="392.30" y2="319.80" stroke="#f0736a" stroke-width="0.8"/>
<line x1="390.80" y1="318.30" x2="393.80" y2="318.30" stroke="#f0736a" stroke-width="0.8"/>
<line x1="407.00" y1="319.30" x2="407.00" y2="322.30" stroke="#f0736a" stroke-width="0.8"/>
<line x1="405.50" y1="320.80" x2="408.50" y2="320.80" stroke="#f0736a" stroke-width="0.8"/>
<line x1="454.20" y1="319.30" x2="454.20" y2="322.30" stroke="#f0736a" stroke-width="0.8"/>
<line x1="452.70" y1="320.80" x2="455.70" y2="320.80" stroke="#f0736a" stroke-width="0.8"/>
<line x1="354.60" y1="293.23" x2="354.60" y2="296.23" stroke="#14bcc0" stroke-width="0.8"/>
<line x1="353.10" y1="294.73" x2="356.10" y2="294.73" stroke="#14bcc0" stroke-width="0.8"/>
<line x1="361.50" y1="297.52" x2="361.50" y2="300.52" stroke="#14bcc0" stroke-width="0.8"/>
<line x1="360.00" y1="299.02" x2="363.00" y2="299.02" stroke="#14bcc0" stroke-width="0.8"/>
<line x1="375.40" y1="301.86" x2="375.40" y2="304.86" stroke="#14bcc0" stroke-width="0.8"/>
<line x1="373.90" y1="303.36" x2="376.90" y2="303.36" stroke="#14bcc0" stroke-width="0.8"/>
<line x1="379.20" y1="303.10" x2="379.20" y2="306.10" stroke="#14bcc0" stroke-width="0.8"/>
<line x1="377.70" y1="304.60" x2="380.70" y2="304.60" stroke="#14bcc0" stroke-width="0.8"/>
<line x1="392.30" y1="313.14" x2="392.30" y2="316.14" stroke="#14bcc0" stroke-width="0.8"/>
<line x1="390.80" y1="314.64" x2="393.80" y2="314.64" stroke="#14bcc0" stroke-width="0.8"/>
<line x1="407.00" y1="317.30" x2="407.00" y2="320.30" stroke="#14bcc0" stroke-width="0.8"/>
<line x1="405.50" y1="318.80" x2="408.50" y2="318.80" stroke="#14bcc0" stroke-width="0.8"/>
<line x1="423.00" y1="317.30" x2="423.00" y2="320.30" stroke="#14bcc0" stroke-width="0.8"/>
<line x1="421.50" y1="318.80" x2="424.50" y2="318.80" stroke="#14bcc0" stroke-width="0.8"/>
<line x1="478.30" y1="322.90" x2="478.30" y2="325.90" stroke="#14bcc0" stroke-width="0.8"/>
<line x1="476.80" y1="324.40" x2="479.80" y2="324.40" stroke="#14bcc0" stroke-width="0.8"/>
<rect x="406.5" y="235.4" width="110.1" height="41.6" fill="none" stroke="#222" stroke-width="0.9"/>
<line x1="451.30" y1="235.40" x2="451.30" y2="277.00" stroke="#222" stroke-width="0.9"/>
<line x1="406.50" y1="249.20" x2="516.60" y2="249.20" stroke="#222" stroke-width="0.9"/>
<text x="484.60" y="244.63" font-size="6.5" text-anchor="middle" fill="#111" stroke="#111" stroke-width="0.16" font-weight="bold">HR (95% CI)</text>
<line x1="410.80" y1="256.60" x2="423.30" y2="256.60" stroke="#f0736a" stroke-width="1.8"/>
<line x1="417.00" y1="254.70" x2="417.00" y2="258.60" stroke="#f0736a" stroke-width="0.8"/>
<line x1="410.80" y1="266.90" x2="423.30" y2="266.90" stroke="#14bcc0" stroke-width="1.8"/>
<line x1="417.00" y1="264.50" x2="417.00" y2="269.40" stroke="#14bcc0" stroke-width="0.8"/>
<text x="428.90" y="258.43" font-size="6.5" text-anchor="start" fill="#111" stroke="#111" stroke-width="0.33">PFS-I</text>
<text x="428.90" y="271.53" font-size="6.5" text-anchor="start" fill="#111" stroke="#111" stroke-width="0.33">TTNT</text>
<text x="484.40" y="257.83" font-size="6.5" text-anchor="middle" fill="#111" stroke="#111" stroke-width="0.33">8.6 (7.3–10.1)</text>
<text x="484.80" y="270.73" font-size="6.5" text-anchor="middle" fill="#111" stroke="#111" stroke-width="0.33">11.3 (10.0–13.6)</text>
<text x="304.20" y="363.29" font-size="8.06" text-anchor="start" fill="#222" stroke="#222" stroke-width="0.40">Number at risk</text>
<line x1="292.20" y1="372.60" x2="299.90" y2="372.60" stroke="#f0736a" stroke-width="2.4"/>
<line x1="292.20" y1="381.20" x2="299.90" y2="381.20" stroke="#11a9a9" stroke-width="2.4"/>
<line x1="303.80" y1="367.80" x2="303.80" y2="385.60" stroke="#9a9a9a" stroke-width="0.9"/>
<line x1="303.40" y1="385.60" x2="508.60" y2="385.60" stroke="#9a9a9a" stroke-width="0.9"/>
<text x="312.80" y="375.06" font-size="6.3" text-anchor="middle" fill="#111" stroke="#111" stroke-width="0.32">60</text>
<text x="312.80" y="383.46" font-size="6.3" text-anchor="middle" fill="#111" stroke="#111" stroke-width="0.32">103</text>
<line x1="312.80" y1="385.60" x2="312.80" y2="387.20" stroke="#9a9a9a" stroke-width="0.7"/>
<text x="312.80" y="394.59" font-size="6.4" text-anchor="middle" fill="#222" stroke="#222" stroke-width="0.32">0</text>
<text x="343.76" y="375.06" font-size="6.3" text-anchor="middle" fill="#111" stroke="#111" stroke-width="0.32">29</text>
<text x="343.76" y="383.46" font-size="6.3" text-anchor="middle" fill="#111" stroke="#111" stroke-width="0.32">50</text>
<line x1="343.76" y1="385.60" x2="343.76" y2="387.20" stroke="#9a9a9a" stroke-width="0.7"/>
<text x="343.76" y="394.59" font-size="6.4" text-anchor="middle" fill="#222" stroke="#222" stroke-width="0.32">12</text>
<text x="374.72" y="375.06" font-size="6.3" text-anchor="middle" fill="#111" stroke="#111" stroke-width="0.32">8</text>
<text x="374.72" y="383.46" font-size="6.3" text-anchor="middle" fill="#111" stroke="#111" stroke-width="0.32">24</text>
<line x1="374.72" y1="385.60" x2="374.72" y2="387.20" stroke="#9a9a9a" stroke-width="0.7"/>
<text x="374.72" y="394.59" font-size="6.4" text-anchor="middle" fill="#222" stroke="#222" stroke-width="0.32">24</text>
<text x="405.68" y="375.06" font-size="6.3" text-anchor="middle" fill="#111" stroke="#111" stroke-width="0.32">2</text>
<text x="405.68" y="383.46" font-size="6.3" text-anchor="middle" fill="#111" stroke="#111" stroke-width="0.32">5</text>
<line x1="405.68" y1="385.60" x2="405.68" y2="387.20" stroke="#9a9a9a" stroke-width="0.7"/>
<text x="405.68" y="394.59" font-size="6.4" text-anchor="middle" fill="#222" stroke="#222" stroke-width="0.32">36</text>
<text x="436.64" y="375.06" font-size="6.3" text-anchor="middle" fill="#111" stroke="#111" stroke-width="0.32">1</text>
<text x="436.64" y="383.46" font-size="6.3" text-anchor="middle" fill="#111" stroke="#111" stroke-width="0.32">3</text>
<line x1="436.64" y1="385.60" x2="436.64" y2="387.20" stroke="#9a9a9a" stroke-width="0.7"/>
<text x="436.64" y="394.59" font-size="6.4" text-anchor="middle" fill="#222" stroke="#222" stroke-width="0.32">48</text>
<text x="467.60" y="375.06" font-size="6.3" text-anchor="middle" fill="#111" stroke="#111" stroke-width="0.32">0</text>
<text x="467.60" y="383.46" font-size="6.3" text-anchor="middle" fill="#111" stroke="#111" stroke-width="0.32">1</text>
<line x1="467.60" y1="385.60" x2="467.60" y2="387.20" stroke="#9a9a9a" stroke-width="0.7"/>
<text x="467.60" y="394.59" font-size="6.4" text-anchor="middle" fill="#222" stroke="#222" stroke-width="0.32">60</text>
<text x="498.56" y="375.06" font-size="6.3" text-anchor="middle" fill="#111" stroke="#111" stroke-width="0.32">0</text>
<text x="498.56" y="383.46" font-size="6.3" text-anchor="middle" fill="#111" stroke="#111" stroke-width="0.32">0</text>
<line x1="498.56" y1="385.60" x2="498.56" y2="387.20" stroke="#9a9a9a" stroke-width="0.7"/>
<text x="498.56" y="394.59" font-size="6.4" text-anchor="middle" fill="#222" stroke="#222" stroke-width="0.32">72</text>
<text x="406.00" y="404.95" font-size="7.4" text-anchor="middle" fill="#222" stroke="#222" stroke-width="0.37">Months from start of regimen</text>
</svg>
</body></html>
